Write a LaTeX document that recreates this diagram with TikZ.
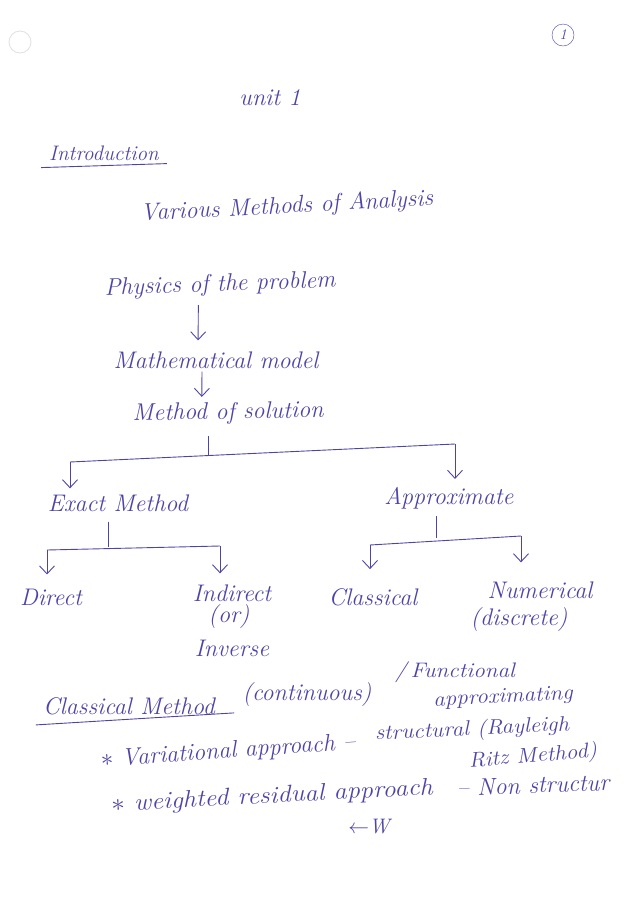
\documentclass[tikz,border=0pt]{standalone}
\usetikzlibrary{arrows.meta, positioning}

\begin{document}
\begin{tikzpicture}[
    x=1pt, y=-1pt,
    hand/.style={text=inkc, font=\fontsize{24}{27}\selectfont\itshape, inner sep=1pt},
    mid/.style={hand, font=\fontsize{21}{24}\selectfont\itshape, inner sep=0pt},
    note/.style={mid, xscale=1.1},
    ln/.style={draw=inkc, line width=0.9pt},
    arr/.style={ln, -{Straight Barb[length=8pt, width=15pt, line width=0.9pt]}}
]

\definecolor{inkc}{RGB}{78,68,168}

\useasboundingbox (0,0) rectangle (638,903);

% page marks
\draw[gray!25, line width=0.8pt] (20,42) circle (11);
\node[draw=inkc, circle, text=inkc, minimum size=22pt, inner sep=0pt, font=\fontsize{15}{15}\selectfont\itshape] (page) at (563,35) {1};

\node[hand] (unit) at (270,98) {unit 1};
\node[mid] (intro) at (104,153) {Introduction};
\draw[ln] ([xshift=-8pt, yshift=-7pt]intro.south west) -- ([xshift=8pt, yshift=-3pt]intro.south east);
\node[hand, rotate=3] (various) at (287,207) {Various Methods of Analysis};

% chain
\node[hand, rotate=2] (phys) at (220,285) {Physics of the problem};
\node[hand] (model) at (216,360) {Mathematical model};
\node[hand, rotate=1] (sol) at (228,413) {Method of solution};
\draw[arr, shorten <=8pt, shorten >=10pt] ([xshift=-22pt]phys.south) -- ([xshift=-18pt]model.north);
\draw[arr, shorten <=2pt, shorten >=4pt] ([xshift=-14pt]model.south) -- ([xshift=-26pt]sol.north);

% first split
\coordinate (t0) at (208,455);
\coordinate (tl) at (70,462);
\coordinate (tr) at (455,444);
\node[hand] (exact) at (118,503) {Exact Method};
\node[hand] (approx) at (449,498) {Approximate};
\draw[ln, shorten <=11pt] (sol.south -| t0) -- (t0);
\draw[ln] (tl) -- (tr);
\draw[arr, shorten >=5pt] (tl) -- (tl |- exact.north);
\draw[arr, shorten >=7pt] (tr) -- (tr |- approx.north);

% exact branch
\coordinate (e0) at (108,547);
\coordinate (el) at (47,550);
\coordinate (er) at (220,546);
\node[hand] (direct) at (51,597) {Direct};
\node[hand] (indirect) at (232,593) {Indirect};
\node[hand] (or) at (229,617) {(or)};
\node[hand] (inverse) at (232,648) {Inverse};
\draw[ln, shorten <=9pt] (exact.south -| e0) -- (e0);
\draw[ln] (el) -- (er);
\draw[arr, shorten >=13pt] (el) -- (el |- direct.north);
\draw[arr, shorten >=10pt] (er) -- (er |- indirect.north);

% approximate branch
\coordinate (a0) at (436,538);
\coordinate (al) at (370,545);
\coordinate (ar) at (521,536);
\node[hand] (classical) at (373,597) {Classical};
\node[hand] (numerical) at (540,590) {Numerical};
\node[hand] (discrete) at (519,620) {(discrete)};
\draw[ln, shorten <=6pt] (approx.south -| a0) -- (a0);
\draw[ln] (al) -- (ar);
\draw[arr, shorten >=18pt] (al) -- (al |- classical.north);
\draw[arr, shorten >=18pt] (ar) -- (ar |- numerical.north);

% notes
\node[hand] (cmeth) at (129,706) {Classical Method};
\draw[ln] ([xshift=-6pt, yshift=-9pt]cmeth.south west) -- ([xshift=18pt, yshift=3pt]cmeth.south east);
\node[hand] (cont) at (307,695) {(continuous)};
\node[note] (func) at (455,672) {/\,Functional};
\node[note, rotate=3] (apxm) at (503,698) {approximating};
\node[hand, rotate=4] (var) at (228,752) {$\ast$ Variational approach --};
\node[note, rotate=3] (struct) at (472,730) {structural (Rayleigh};
\node[note, rotate=5] (ritz) at (533,757) {Ritz Method)};
\node[hand, rotate=3, xscale=1.1] (wres) at (272,797) {$\ast$ weighted residual approach};
\node[hand, rotate=2] (nonst) at (533,785) {-- Non structur};
\node[mid] (wmark) at (369,827) {$\leftarrow$W};

\end{tikzpicture}
\end{document}
